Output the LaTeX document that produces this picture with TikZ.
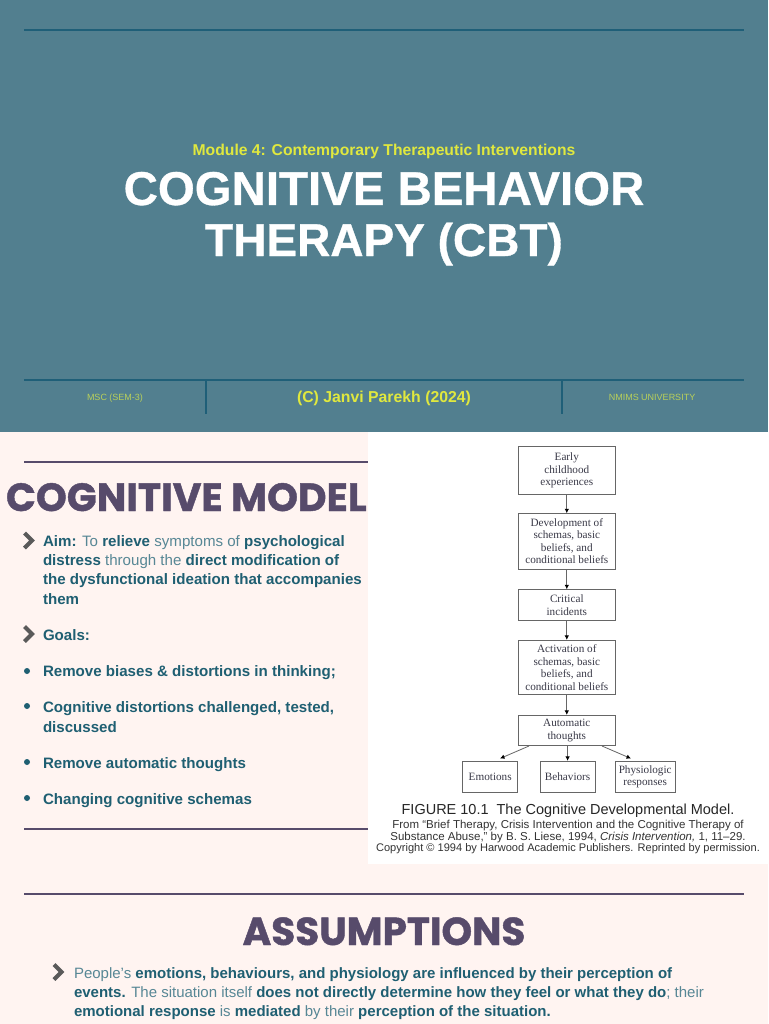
\documentclass[tikz,border=0pt]{standalone}
\usepackage{fontspec}
\setmainfont{Liberation Sans}
\newfontfamily\headfont[FakeBold=1.1]{Poppins}
\newfontfamily\titlefont[BoldFeatures={FakeBold=0.7}]{Liberation Sans}
\newfontfamily\figserif{Liberation Serif}
\newfontfamily\figsans{Liberation Sans}
\usetikzlibrary{arrows.meta}
\definecolor{topteal}{HTML}{527F8F}
\definecolor{ruleteal}{HTML}{1F5F78}
\definecolor{limey}{HTML}{E0E83E}
\definecolor{dimlime}{HTML}{B9D05A}
\definecolor{plum}{HTML}{574B6B}
\definecolor{blush}{HTML}{FFF4F1}
\definecolor{bodyteal}{HTML}{1F5F72}
\definecolor{chev}{HTML}{5A5A5A}
\definecolor{figline}{HTML}{666666}
\definecolor{figtext}{HTML}{3A3A48}
\newcommand{\fs}[1]{\fontsize{#1}{#1}\selectfont}
\newcommand{\lt}[1]{{\color{bodyteal!75}#1}}
\tikzset{
  x=1pt,y=-1pt,
  txt/.style={inner sep=0pt,outer sep=0pt,anchor=base west},
  ctr/.style={inner sep=0pt,outer sep=0pt,anchor=base},
  body/.style={txt,text=bodyteal,font=\fs{15.1}\bfseries},
  assume/.style={txt,text=bodyteal,font=\fs{15}\bfseries},
  figbox/.style={draw=figline,line width=0.8pt,fill=white,align=center,inner sep=0pt,text=figtext,
    font=\figserif\fs{11.2}\linespread{1.11}\selectfont},
  figarrow/.style={draw=figline,line width=0.8pt,-{Latex[length=4.5pt,width=4.5pt,black]}},
  capline/.style={ctr,text=black!80,font=\figsans},
  chevron/.style={draw=chev,line width=4pt,line join=miter},
  dot/.style={circle,fill=bodyteal,inner sep=0pt,minimum size=6pt}
}
\begin{document}
\begin{tikzpicture}
\useasboundingbox (0,0) rectangle (768,1024);
\fill[topteal] (0,0) rectangle (768,432);
\fill[blush] (0,432) rectangle (768,1024);
\fill[white] (368,432) rectangle (768,864);

% top panel
\draw[ruleteal,line width=2pt] (24,30) -- (744,30);
\draw[ruleteal,line width=2pt] (24,379.5) -- (744,379.5);
\draw[ruleteal,line width=2pt] (206,380) -- (206,414);
\draw[ruleteal,line width=2pt] (562,380) -- (562,414);
\node[ctr,text=limey,font=\fs{15.7}\bfseries] (module) at (384,155.5) {Module 4: Contemporary Therapeutic Interventions};
\node[ctr,text=white,font=\titlefont\fs{47.4}\bfseries] (title1) at (384,205) {COGNITIVE BEHAVIOR};
\node[ctr,text=white,font=\titlefont\fs{46}\bfseries] (title2) at (384,256) {THERAPY (CBT)};
\node[ctr,text=dimlime,font=\fs{9}] (msc) at (115,400) {MSC (SEM-3)};
\node[ctr,text=limey,font=\fs{15.8}\bfseries] (janvi) at (384,402) {(C) Janvi Parekh (2024)};
\node[ctr,text=dimlime,font=\fs{9}] (nmims) at (652,400) {NMIMS UNIVERSITY};

% left panel
\draw[plum,line width=2pt] (24,462) -- (368,462);
\draw[plum,line width=2pt] (24,829) -- (368,829);
\node[txt,text=plum,font=\headfont\fs{39.3}\bfseries] (cogmodel) at (6,511) {COGNITIVE MODEL};
\draw[chevron] (24.5,533) -- (32,540.5) -- (24.5,548);
\node[body] (l1) at (43,546) {Aim: \lt{\mdseries To} relieve \lt{\mdseries symptoms of} psychological};
\node[body] (l2) at (43,565) {distress \lt{\mdseries through the} direct modification of};
\node[body] (l3) at (43,584.5) {the dysfunctional ideation that accompanies};
\node[body] (l4) at (43,604) {them};
\draw[chevron] (24.5,626.5) -- (32,634) -- (24.5,641.5);
\node[body] (l5) at (43,640) {Goals:};
\node[dot] (d1) at (27,671) {};
\node[body] (l6) at (43,676) {Remove biases \& distortions in thinking;};
\node[dot] (d2) at (27,706) {};
\node[body] (l7) at (43,712) {Cognitive distortions challenged, tested,};
\node[body] (l8) at (43,732) {discussed};
\node[dot] (d3) at (27,762) {};
\node[body] (l9) at (43,768) {Remove automatic thoughts};
\node[dot] (d4) at (27,798) {};
\node[body] (l10) at (43,804) {Changing cognitive schemas};

% figure
\node[figbox,minimum width=97pt,minimum height=47.6pt] (b1) at (566.8,470.5) {Early\\childhood\\experiences};
\node[figbox,minimum width=97pt,minimum height=55.3pt] (b2) at (566.8,541.3) {Development of\\schemas, basic\\beliefs, and\\conditional beliefs};
\node[figbox,minimum width=97pt,minimum height=31pt] (b3) at (566.8,605.2) {Critical\\incidents};
\node[figbox,minimum width=97pt,minimum height=54.4pt] (b4) at (566.8,667.5) {Activation of\\schemas, basic\\beliefs, and\\conditional beliefs};
\node[figbox,minimum width=97pt,minimum height=30.4pt] (b5) at (566.8,730.5) {Automatic\\thoughts};
\node[figbox,minimum width=55pt,minimum height=31.4pt] (b6) at (490.2,777) {Emotions};
\node[figbox,minimum width=55.3pt,minimum height=31.4pt] (b7) at (567.6,777) {Behaviors};
\node[figbox,minimum width=59.7pt,minimum height=31.4pt] (b8) at (645.2,777) {Physiologic\\responses};
\draw[figarrow] (b1) -- (b2);
\draw[figarrow] (b2) -- (b3);
\draw[figarrow] (b3) -- (b4);
\draw[figarrow] (b4) -- (b5);
\coordinate (s6) at (529,746);
\coordinate (e6) at (500,758.5);
\coordinate (s8) at (602,746);
\coordinate (e8) at (631,758.5);
\draw[figarrow] (s6) -- (e6);
\draw[figarrow] (b5.south -| b7) -- (b7.north);
\draw[figarrow] (s8) -- (e8);
\node[ctr,text=black!85,font=\figsans\fs{14.5}] (cap0) at (568,814) {FIGURE 10.1\hspace{8pt}The Cognitive Developmental Model.};
\node[capline,font=\figsans\fs{11.5}] (cap1) at (568,828) {From “Brief Therapy, Crisis Intervention and the Cognitive Therapy of};
\node[capline,font=\figsans\fs{11.5}] (cap2) at (568,840) {Substance Abuse,” by B. S. Liese, 1994, \textit{Crisis Intervention,} 1, 11–29.};
\node[capline,font=\figsans\fs{11.05}] (cap3) at (568,851.5) {Copyright © 1994 by Harwood Academic Publishers. Reprinted by permission.};

% assumptions
\draw[plum,line width=2pt] (24,893.5) -- (744,893.5);
\node[ctr,text=plum,font=\headfont\fs{39}\bfseries] (assump) at (384,945) {ASSUMPTIONS};
\draw[chevron] (54,964.5) -- (61.5,972) -- (54,979.5);
\node[assume] (a1) at (74,978) {\lt{\mdseries People’s} emotions, behaviours, and physiology are influenced by their perception of};
\node[assume] (a2) at (74,997) {events. \lt{\mdseries The situation itself} does not directly determine how they feel or what they do\lt{\mdseries; their}};
\node[assume] (a3) at (74,1016) {emotional response \lt{\mdseries is} mediated \lt{\mdseries by their} perception of the situation.};
\end{tikzpicture}
\end{document}
